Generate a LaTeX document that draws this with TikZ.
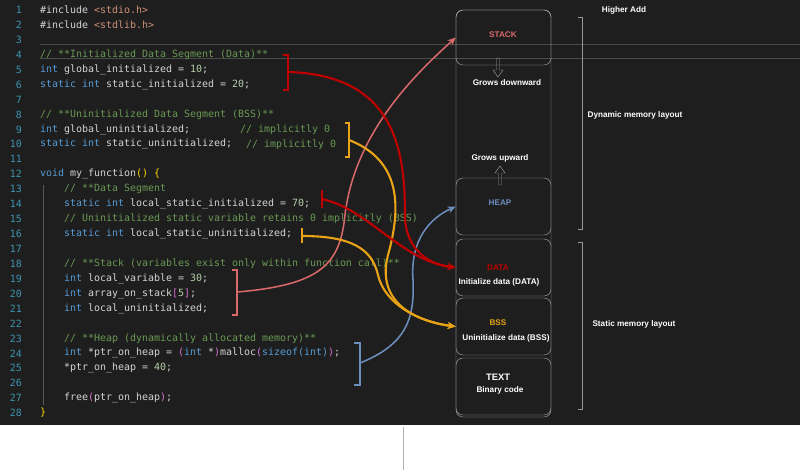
\documentclass[tikz,border=0pt]{standalone}
\usepackage{fontspec}
\usetikzlibrary{arrows.meta}
\newfontfamily\codefont{DejaVu Sans Mono}
\newfontfamily\labfont{Liberation Sans}
\definecolor{editorbg}{HTML}{1E1E1E}
\definecolor{kwblue}{HTML}{569CD6}
\definecolor{cmgreen}{HTML}{6A9955}
\definecolor{strorange}{HTML}{CE9178}
\definecolor{numgreen}{HTML}{B5CEA8}
\definecolor{plain}{HTML}{D4D4D4}
\definecolor{lnteal}{HTML}{3E94B0}
\definecolor{brgold}{HTML}{FFD700}
\definecolor{brpink}{HTML}{DA70D6}
\definecolor{datared}{HTML}{C00000}
\definecolor{stackred}{HTML}{D9686A}
\definecolor{bssgold}{HTML}{E8A317}
\definecolor{heapblue}{HTML}{6C8EBF}
\newcommand\kw[1]{\textcolor{kwblue}{#1}}
\newcommand\cm[1]{\textcolor{cmgreen}{#1}}
\newcommand\nm[1]{\textcolor{numgreen}{#1}}
\newcommand\pk[1]{\textcolor{brpink}{#1}}

\begin{document}
\begin{tikzpicture}[x=0.03cm, y=-0.03cm,
    codeline/.style={anchor=west, inner sep=0pt, text=plain, font=\codefont\fontsize{8.5}{10}\selectfont},
    lineno/.style={anchor=east, inner sep=0pt, text=lnteal, font=\codefont\fontsize{8.5}{10}\selectfont},
    memseg/.style={draw=gray!70, rounded corners=6pt, minimum width=2.85cm, inner sep=0pt},
    memlabel/.style={inner sep=0pt, font=\labfont\bfseries\fontsize{7}{8}\selectfont, text=white},
    bracket/.style={line width=1.1pt},
    link/.style={line width=1.8pt, -{Stealth[length=7pt,width=6pt]}}]

    \useasboundingbox (0,0) rectangle (800,475);
    \fill[white] (0,0) rectangle (800,475);
    \fill[editorbg] (0,0) rectangle (800,425);
    \draw[gray!60] (403,427) -- (403,470);
    \draw[white!20!editorbg] (40,44) -- (800,44);
    \draw[white!20!editorbg] (40,58) -- (800,58);
    \draw[white!25!editorbg] (43,185) -- (43,405);

    % line numbers
    \foreach \n in {1,...,28}
        \node[lineno] (n\n) at (22,{10+(\n-1)*14.93}) {\n};

    % code
    \node[codeline] (l1) at (40,10) {\#include \textcolor{strorange}{<stdio.h>}};
    \node[codeline] (l2) at (40,24.9) {\#include \textcolor{strorange}{<stdlib.h>}};
    \node[codeline] (l4) at (40,54.8) {\cm{// **Initialized Data Segment (Data)**}};
    \node[codeline] (l5) at (40,69.7) {\kw{int} global\_initialized = \nm{10};};
    \node[codeline] (l6) at (40,84.7) {\kw{static int} static\_initialized = \nm{20};};
    \node[codeline] (l8) at (40,114.5) {\cm{// **Uninitialized Data Segment (BSS)**}};
    \node[codeline] (l9) at (40,129.4) {\kw{int} global\_uninitialized;};
    \node[codeline] (c9) at (240,129.4) {\cm{// implicitly 0}};
    \node[codeline] (l10) at (40,144.3) {\kw{static int} static\_uninitialized;};
    \node[codeline] (c10) at (246,144.3) {\cm{// implicitly 0}};
    \node[codeline] (l12) at (40,174.2) {\kw{void} my\_function\textcolor{brgold}{() \{}};
    \node[codeline] (l13) at (64,189.2) {\cm{// **Data Segment}};
    \node[codeline] (l14) at (64,204.1) {\kw{static int} local\_static\_initialized = \nm{70};};
    \node[codeline] (l15) at (64,219) {\cm{// Uninitialized static variable retains 0 implicitly (BSS)}};
    \node[codeline] (l16) at (64,233.9) {\kw{static int} local\_static\_uninitialized;};
    \node[codeline] (l18) at (64,263.8) {\cm{// **Stack (variables exist only within function call)**}};
    \node[codeline] (l19) at (64,278.7) {\kw{int} local\_variable = \nm{30};};
    \node[codeline] (l20) at (64,293.6) {\kw{int} array\_on\_stack\pk{[}\nm{5}\pk{]};};
    \node[codeline] (l21) at (64,308.6) {\kw{int} local\_uninitialized;};
    \node[codeline] (l23) at (64,338.4) {\cm{// **Heap (dynamically allocated memory)**}};
    \node[codeline] (l24) at (64,353.3) {\kw{int} *ptr\_on\_heap = \pk{(}\kw{int} *\pk{)}malloc\pk{(}\kw{sizeof}\kw{(int)}\pk{)};};
    \node[codeline] (l25) at (64,368.2) {*ptr\_on\_heap = \nm{40};};
    \node[codeline] (l27) at (64,398.1) {free\pk{(}ptr\_on\_heap\pk{)};};
    \node[codeline] (l28) at (40,413) {\textcolor{brgold}{\}}};

    % memory layout
    \node[memseg, minimum height=12.21cm] (mem) at (503.5,213.5) {};
    \node[memseg, minimum height=1.65cm] (stack) at (503.5,37.5) {};
    \node[memseg, minimum height=1.71cm] (heap) at (503.5,206.5) {};
    \node[memseg, minimum height=1.71cm] (data) at (503.5,267.5) {};
    \node[memseg, minimum height=1.71cm] (bss) at (503.5,326.5) {};
    \node[memseg, minimum height=1.71cm] (text) at (503.5,386.5) {};

    \node[memlabel, text=stackred] (stacklbl) at (503,35) {STACK};
    \node[memlabel] (down) at (507,83) {Grows downward};
    \node[memlabel] (up) at (500,158) {Grows upward};
    \node[memlabel, text=heapblue] (heaplbl) at (500,203) {HEAP};
    \node[memlabel, text=datared] (datalbl) at (498,268) {DATA};
    \node[memlabel] (datadesc) at (499,282) {Initialize data (DATA)};
    \node[memlabel, text=bssgold] (bsslbl) at (498,323) {BSS};
    \node[memlabel] (bssdesc) at (506,338) {Uninitialize data (BSS)};
    \node[memlabel, font=\labfont\bfseries\fontsize{8}{9}\selectfont] (textlbl) at (498,377) {TEXT};
    \node[memlabel] (textdesc) at (500,390) {Binary code};

    \draw[gray!80] (496.5,58) -- (499.5,58) -- (499.5,70) -- (503,70) -- (498,77) -- (493,70) -- (496.5,70) -- cycle;
    \draw[gray!80] (498.5,185) -- (501.5,185) -- (501.5,173) -- (505,173) -- (500,166) -- (495,173) -- (498.5,173) -- cycle;

    \draw[gray!80] (578,17) -- (582,17) -- (582,229) -- (578,229);
    \draw[gray!80] (578,242) -- (582,242) -- (582,409) -- (578,409);
    \node[memlabel] (higher) at (624,10) {Higher Add};
    \node[memlabel] (dyn) at (635,115) {Dynamic memory layout};
    \node[memlabel] (stat) at (634,324) {Static memory layout};

    % brackets in the code
    \draw[bracket, datared] (283,55) -- (288,55) -- (288,90) -- (283,90);
    \coordinate (b1) at (288,72);
    \draw[bracket, bssgold] (345,123) -- (349,123) -- (349,157) -- (345,157);
    \coordinate (b2) at (349,140);
    \draw[bracket, datared] (322,190) -- (322,208);
    \coordinate (b3) at (322,199);
    \draw[bracket, bssgold] (302,228) -- (302,243);
    \coordinate (b4) at (302,236);
    \draw[bracket, stackred] (232,270) -- (237,270) -- (237,315) -- (232,315);
    \coordinate (b5) at (237,292);
    \draw[bracket, heapblue] (354,343) -- (360,343) -- (360,385) -- (354,385);
    \coordinate (b6) at (360,363);

    % links to segments
    \draw[link, stackred, line width=1.3pt] (b5) .. controls (320,285) and (340,265) .. (345,215) .. controls (355,130) and (420,70) .. (stack.west);
    \draw[link, heapblue, line width=1.3pt] (b6) .. controls (405,345) and (415,320) .. (413,280) .. controls (410,240) and (430,218) .. (heap.west);
    \draw[link, bssgold] (b2) .. controls (400,160) and (402,205) .. (388,255) .. controls (375,305) and (420,322) .. (bss.west);
    \draw[link, bssgold] (b4) .. controls (350,236) and (372,248) .. (378,275) .. controls (385,305) and (420,322) .. (bss.west);
    \draw[link, datared] (b1) .. controls (395,75) and (405,150) .. (405,215) .. controls (405,250) and (430,265) .. (data.west);
    \draw[link, datared] (b3) .. controls (370,210) and (400,260) .. (data.west);

\end{tikzpicture}
\end{document}
